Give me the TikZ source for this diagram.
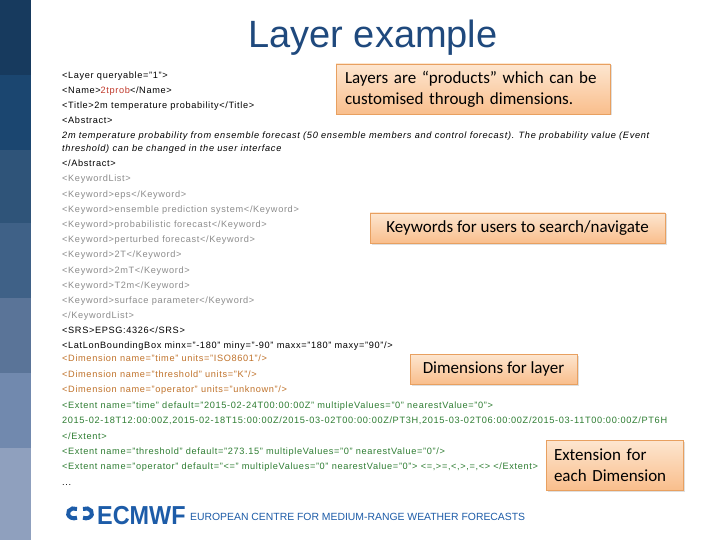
\documentclass[tikz,border=0pt]{standalone}
\usepackage{fontspec}
\setmainfont{Liberation Sans}
\newfontfamily\calib{Carlito}
\usetikzlibrary{shadows}
\definecolor{sA}{HTML}{173A5E}\definecolor{sB}{HTML}{1B4670}\definecolor{sC}{HTML}{2F5479}
\definecolor{sD}{HTML}{3F6187}\definecolor{sE}{HTML}{5A7498}\definecolor{sF}{HTML}{7189AE}\definecolor{sG}{HTML}{8FA0BE}
\definecolor{titleblue}{HTML}{1F497D}
\definecolor{dimc}{HTML}{C0722A}
\definecolor{extc}{HTML}{2E7D32}
\definecolor{kwc}{HTML}{8C8C8C}
\definecolor{redc}{HTML}{C0392B}
\definecolor{boxtop}{HTML}{FDE6D0}\definecolor{boxbot}{HTML}{F9BE8C}\definecolor{boxline}{HTML}{E8A060}
\definecolor{logob}{HTML}{1D5CA8}
\begin{document}
\begin{tikzpicture}[x=1pt,y=-1pt,
  code/.style={anchor=base west,inner sep=0pt,font=\fontsize{9.2}{10}\selectfont\addfontfeature{LetterSpace=7}},
  codei/.style={code,font=\fontsize{9.2}{10}\selectfont\itshape\addfontfeature{LetterSpace=7.5}},
  callout/.style={draw=boxline,top color=boxtop,bottom color=boxbot,inner sep=0pt,font=\calib\fontsize{17}{21}\selectfont,align=left,drop shadow={opacity=0.25,shadow xshift=1.5pt,shadow yshift=-1.5pt}}]
\useasboundingbox (0,0) rectangle (720,540);
\fill[white] (0,0) rectangle (720,540);
\fill[sA] (0,0) rectangle (31,75);
\fill[sB] (0,75) rectangle (31,150);
\fill[sC] (0,150) rectangle (31,223);
\fill[sD] (0,223) rectangle (31,298);
\fill[sE] (0,298) rectangle (31,373);
\fill[sF] (0,373) rectangle (31,448);
\fill[sG] (0,448) rectangle (31,540);
\node[font=\fontsize{38}{40}\selectfont,text=titleblue] (title) at (373,38) {Layer example};
\node[code] (l1) at (62,79) {<Layer queryable="1">};
\node[code] (l2) at (62,94) {<Name>\textcolor{redc}{2tprob}</Name>};
\node[code] (l3) at (62,109) {<Title>2m temperature probability</Title>};
\node[code] (l4) at (62,124) {<Abstract>};
\node[codei] (l5) at (62,139) {2m temperature probability from ensemble forecast (50 ensemble members and control forecast). The probability value (Event};
\node[codei] (l6) at (62,152) {threshold) can be changed in the user interface};
\node[code] (l7) at (62,167) {</Abstract>};
\begin{scope}[every node/.append style={text=kwc}]
\node[code] (k1) at (62,182) {<KeywordList>};
\node[code] (k2) at (62,197) {<Keyword>eps</Keyword>};
\node[code] (k3) at (62,212) {<Keyword>ensemble prediction system</Keyword>};
\node[code] (k4) at (62,228) {<Keyword>probabilistic forecast</Keyword>};
\node[code] (k5) at (62,243) {<Keyword>perturbed forecast</Keyword>};
\node[code] (k6) at (62,258) {<Keyword>2T</Keyword>};
\node[code] (k7) at (62,273) {<Keyword>2mT</Keyword>};
\node[code] (k8) at (62,288) {<Keyword>T2m</Keyword>};
\node[code] (k9) at (62,303) {<Keyword>surface parameter</Keyword>};
\node[code] (k10) at (62,318) {</KeywordList>};
\end{scope}
\node[code] (s1) at (62,333) {<SRS>EPSG:4326</SRS>};
\node[code] (s2) at (62,348) {<LatLonBoundingBox minx="-180" miny="-90" maxx="180" maxy="90"/>};
\begin{scope}[every node/.append style={text=dimc}]
\node[code] (d1) at (62,361) {<Dimension name="time" units="ISO8601"/>};
\node[code] (d2) at (62,377) {<Dimension name="threshold" units="K"/>};
\node[code] (d3) at (62,392) {<Dimension name="operator" units="unknown"/>};
\end{scope}
\begin{scope}[every node/.append style={text=extc}]
\node[code] (e1) at (62,408) {<Extent name="time" default="2015-02-24T00:00:00Z" multipleValues="0" nearestValue="0">};
\node[code] (e2) at (62,423) {2015-02-18T12:00:00Z,2015-02-18T15:00:00Z/2015-03-02T00:00:00Z/PT3H,2015-03-02T06:00:00Z/2015-03-11T00:00:00Z/PT6H};
\node[code] (e3) at (62,439) {</Extent>};
\node[code] (e4) at (62,454) {<Extent name="threshold" default="273.15" multipleValues="0" nearestValue="0"/>};
\node[code] (e5) at (62,469) {<Extent name="operator" default="<=" multipleValues="0" nearestValue="0"> <=,>=,<,>,=,<> </Extent>};
\end{scope}
\node[code] (dots) at (62,485) {...};
\node[callout,minimum width=274pt,minimum height=50pt,text width=256pt] (c1) at (473,89) {Layers are “products” which can be\\customised through dimensions.};
\node[callout,minimum width=295pt,minimum height=30pt,align=center] (c2) at (517.5,228) {Keywords for users to search/navigate};
\node[callout,minimum width=167pt,minimum height=30pt,align=center] (c3) at (493.5,369) {Dimensions for layer};
\node[callout,minimum width=137pt,minimum height=50pt,text width=121pt] (c4) at (614.5,465) {Extension for\\each Dimension};
% logo
\begin{scope}[logob,line width=4pt]
\draw (77,509) arc (60:300:6pt and 5pt);
\draw (83,509) arc (120:-120:6pt and 5pt);
\end{scope}
\node[anchor=west,inner sep=0pt,text=logob,font=\fontsize{26}{28}\selectfont\bfseries\addfontfeature{FakeStretch=0.9}] (ecmwf) at (97,516) {ECMWF};
\node[anchor=west,inner sep=0pt,text=logob,font=\fontsize{10.4}{11}\selectfont] (ecname) at (190,517) {EUROPEAN CENTRE FOR MEDIUM-RANGE WEATHER FORECASTS};
\end{tikzpicture}
\end{document}
